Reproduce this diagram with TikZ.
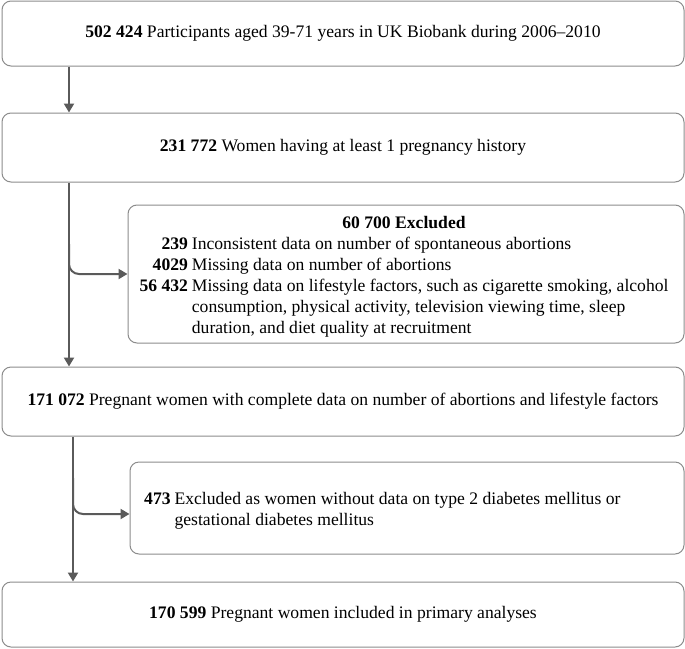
\documentclass[tikz,border=0pt]{standalone}
\usepackage{fontspec}
\setmainfont{Liberation Serif}
\usetikzlibrary{arrows.meta}
\definecolor{boxgray}{HTML}{8C8C8C}
\definecolor{arrgray}{HTML}{5A5A5A}
\begin{document}
\begin{tikzpicture}[x=1pt,y=-1pt,
  font=\fontsize{17.6}{21}\selectfont,
  box/.style={draw=boxgray, line width=1pt, rounded corners=9pt, inner sep=0pt, fill=white},
  txt/.style={inner sep=0pt, align=left},
  arr/.style={draw=arrgray, line width=2pt, -{Triangle[length=9pt,width=10pt]}}]
\useasboundingbox[fill=white] (0,0) rectangle (685,648);
\node[box, minimum width=682pt, minimum height=65pt] (b1) at (343,33.5)
  {\textbf{502 424} Participants aged 39-71 years in UK Biobank during 2006--2010};
\node[box, minimum width=682pt, minimum height=69pt] (b2) at (343,147.5)
  {\textbf{231 772} Women having at least 1 pregnancy history};
\node[box, minimum width=556pt, minimum height=138pt] (b3) at (406,274) {};
\node[txt] (t3) at (404,276.5) {\begin{tabular}{@{}r@{\hspace{4pt}}l@{}}
  \multicolumn{2}{c}{\textbf{60 700 Excluded}}\\
  \textbf{239} & Inconsistent data on number of spontaneous abortions\\
  \textbf{4029} & Missing data on number of abortions\\
  \textbf{56 432} & Missing data on lifestyle factors, such as cigarette smoking, alcohol\\
   & consumption, physical activity, television viewing time, sleep\\
   & duration, and diet quality at recruitment
  \end{tabular}};
\node[box, minimum width=682pt, minimum height=69pt] (b4) at (343,401.5)
  {\textbf{171 072} Pregnant women with complete data on number of abortions and lifestyle factors};
\node[box, minimum width=554pt, minimum height=92pt] (b5) at (407,508) {};
\node[txt, anchor=west] (t5) at (144,510.5) {\begin{tabular}{@{}r@{\hspace{4pt}}l@{}}
  \textbf{473} & Excluded as women without data on type 2 diabetes mellitus or\\
   & gestational diabetes mellitus
  \end{tabular}};
\node[box, minimum width=682pt, minimum height=65pt] (b6) at (343,614.5)
  {\textbf{170 599} Pregnant women included in primary analyses};
\coordinate (c1) at (69,0);
\coordinate (c2) at (73,0);
\draw[arr] (c1 |- b1.south) -- (c1 |- b2.north);
\draw[arr] (c1 |- b2.south) -- (c1 |- b4.north);
\draw[arr, rounded corners=10pt] ([yshift=30pt]c1 |- b3.west) -- (c1 |- b3.west) -- (b3.west);
\draw[arr] (c2 |- b4.south) -- (c2 |- b6.north);
\draw[arr, rounded corners=10pt] ([yshift=30pt]c2 |- b5.west) -- ([yshift=-6pt]c2 |- b5.west) -- ([yshift=-6pt]b5.west);
\end{tikzpicture}
\end{document}
